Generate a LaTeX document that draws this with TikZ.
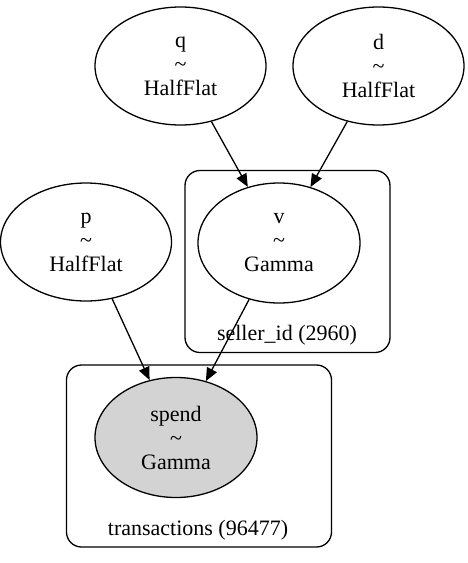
\documentclass[tikz,border=0pt]{standalone}
\usepackage{fontspec}
\setmainfont{Liberation Serif}
\usetikzlibrary{arrows.meta,shapes.geometric}
\definecolor{obsgray}{HTML}{D3D3D3}

\begin{document}
\begin{tikzpicture}[
  x=1pt, y=-1pt,
  rv/.style={draw, ellipse, line width=1.3pt, inner sep=0pt, align=center, font=\fontsize{22}{24}\selectfont, minimum width=171pt, minimum height=118pt},
  obs/.style={rv, fill=obsgray, minimum width=162pt, minimum height=120pt},
  plate/.style={draw, line width=1.3pt, rounded corners=15pt, inner sep=0pt},
  platelabel/.style={anchor=base, inner sep=0pt, font=\fontsize{22}{24}\selectfont},
  edge/.style={line width=1.3pt, -{Triangle[length=13pt,width=11pt]}},
]
\useasboundingbox (0,0) rectangle (468,563);

% plates
\node[plate, minimum width=205pt, minimum height=182pt] (sellers) at (287.5,261.5) {};
\node[platelabel] (sellerlbl) at (287,340) {seller\_id (2960)};
\node[plate, minimum width=265pt, minimum height=182pt] (trans) at (199,456) {};
\node[platelabel] (translbl) at (198,535) {transactions (96477)};

% variables
\node[rv] (q) at (180.5,66) {q\\\textasciitilde\\HalfFlat};
\node[rv] (d) at (378.5,66) {d\\\textasciitilde\\HalfFlat};
\node[rv] (p) at (86,242) {p\\\textasciitilde\\HalfFlat};
\node[rv, minimum width=162pt, minimum height=120pt] (v) at (279,243) {v\\\textasciitilde\\Gamma};
\node[obs] (spend) at (176,437.5) {spend\\\textasciitilde\\Gamma};

\draw[edge] (q) -- (v);
\draw[edge] (d) -- (v);
\draw[edge] (p) -- (spend);
\draw[edge] (v) -- (spend);
\end{tikzpicture}
\end{document}
